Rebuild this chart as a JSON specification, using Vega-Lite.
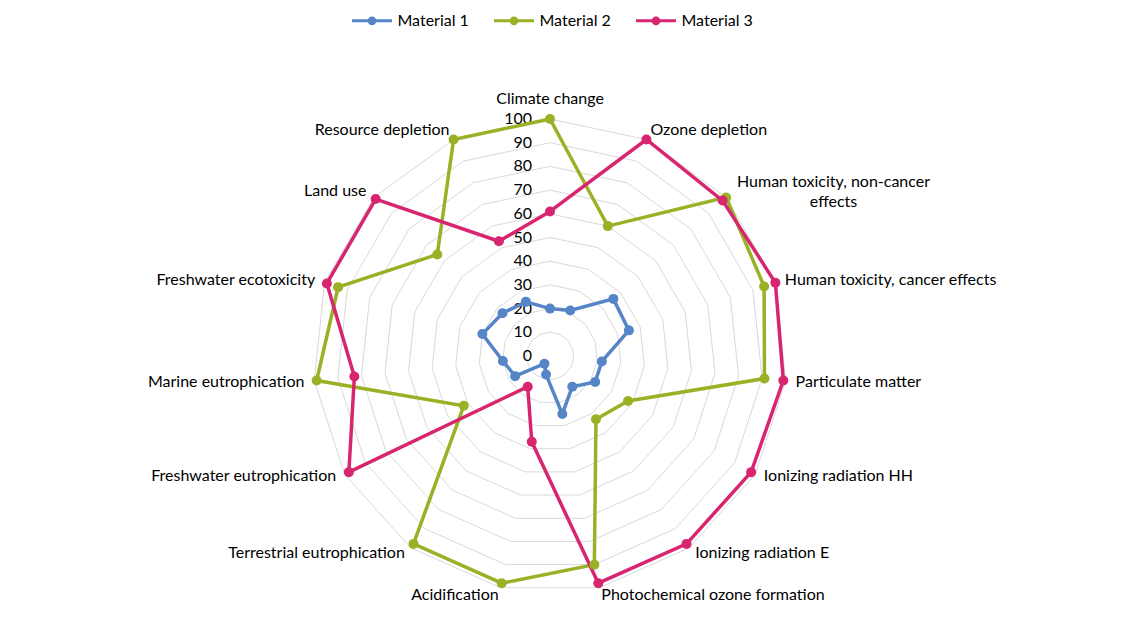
{
  "$schema": "https://vega.github.io/schema/vega-lite/v6.json",
  "width": 1128,
  "height": 623,
  "autosize": {"type": "none"},
  "padding": 0,
  "background": "white",
  "config": {"view": {"stroke": null}, "font": "Lato", "text": {"font": "Lato", "fontSize": 16, "color": "#000000"}},
  "datasets": {
    "impact": [
      {"category": "Climate change", "Material 1": 20, "Material 2": 100, "Material 3": 61},
      {"category": "Ozone depletion", "Material 1": 21, "Material 2": 60, "Material 3": 100},
      {"category": "Human toxicity, non-cancer effects", "Material 1": 36, "Material 2": 100, "Material 3": 98},
      {"category": "Human toxicity, cancer effects", "Material 1": 35, "Material 2": 95, "Material 3": 100},
      {"category": "Particulate matter", "Material 1": 22, "Material 2": 91, "Material 3": 99},
      {"category": "Ionizing radiation HH", "Material 1": 22, "Material 2": 38, "Material 3": 98},
      {"category": "Ionizing radiation E", "Material 1": 16, "Material 2": 33, "Material 3": 98},
      {"category": "Photochemical ozone formation", "Material 1": 25, "Material 2": 90, "Material 3": 98},
      {"category": "Acidification", "Material 1": 8, "Material 2": 98, "Material 3": 37},
      {"category": "Terrestrial eutrophication", "Material 1": 4, "Material 2": 98, "Material 3": 16},
      {"category": "Freshwater eutrophication", "Material 1": 17, "Material 2": 42, "Material 3": 98},
      {"category": "Marine eutrophication", "Material 1": 20, "Material 2": 99, "Material 3": 83},
      {"category": "Freshwater ecotoxicity", "Material 1": 30, "Material 2": 94, "Material 3": 99},
      {"category": "Land use", "Material 1": 27, "Material 2": 64, "Material 3": 99},
      {"category": "Resource depletion", "Material 1": 25, "Material 2": 100, "Material 3": 53}
    ],
    "rings": [
      {"level": 0}, {"level": 10}, {"level": 20}, {"level": 30}, {"level": 40}, {"level": 50},
      {"level": 60}, {"level": 70}, {"level": 80}, {"level": 90}, {"level": 100}
    ]
  },
  "layer": [
    {
      "data": {"name": "rings"},
      "mark": {
        "type": "point",
        "filled": false,
        "opacity": 1,
        "stroke": "#d9d9d9",
        "strokeWidth": 1,
        "shape": "M0,-1L0.4067,-0.9135L0.7431,-0.6691L0.9511,-0.309L0.9945,0.1045L0.866,0.5L0.5878,0.809L0.2079,0.9781L-0.2079,0.9781L-0.5878,0.809L-0.866,0.5L-0.9945,0.1045L-0.9511,-0.309L-0.7431,-0.6691L-0.4067,-0.9135Z"
      },
      "encoding": {
        "x": {"datum": 0, "type": "quantitative", "scale": {"domain": [-232.0675, 243.8819], "nice": false, "zero": false}, "axis": null},
        "y": {"datum": 0, "type": "quantitative", "scale": {"domain": [-112.6582, 150.211], "nice": false, "zero": false}, "axis": null},
        "size": {"field": "level", "type": "quantitative", "scale": {"type": "pow", "exponent": 2, "domain": [0, 100], "range": [0, 224676]}, "legend": null}
      }
    },
    {
      "data": {"name": "rings"},
      "mark": {"type": "text", "align": "right", "baseline": "middle", "dx": -18, "fontSize": 16},
      "encoding": {
        "x": {"datum": 0, "type": "quantitative", "scale": {"domain": [-232.0675, 243.8819], "nice": false, "zero": false}, "axis": null},
        "y": {"field": "level", "type": "quantitative", "scale": {"domain": [-112.6582, 150.211], "nice": false, "zero": false}, "axis": null},
        "text": {"field": "level", "type": "quantitative", "format": "d"}
      }
    },
    {
      "data": {"name": "impact"},
      "transform": [
        {"window": [{"op": "row_number", "as": "rn"}]},
        {"fold": ["Material 1", "Material 2", "Material 3"], "as": ["material", "value"]},
        {"calculate": "(datum.rn - 1) * 2 * PI / 15", "as": "ang"},
        {"calculate": "datum.value * sin(datum.ang)", "as": "x"},
        {"calculate": "datum.value * cos(datum.ang)", "as": "y"}
      ],
      "layer": [
        {
          "mark": {"type": "line", "interpolate": "linear-closed", "strokeWidth": 3.5},
          "encoding": {
            "x": {"field": "x", "type": "quantitative", "scale": {"domain": [-232.0675, 243.8819], "nice": false, "zero": false}, "axis": null},
            "y": {"field": "y", "type": "quantitative", "scale": {"domain": [-112.6582, 150.211], "nice": false, "zero": false}, "axis": null},
            "order": {"field": "rn", "type": "quantitative"},
            "color": {
              "field": "material", "type": "nominal",
              "scale": {"domain": ["Material 1", "Material 2", "Material 3"], "range": ["#5685C7", "#99B125", "#D8256F"]},
              "legend": {
                "title": null, "orient": "none", "direction": "horizontal", "legendX": 360.5, "legendY": 9,
                "padding": 0, "symbolSize": 400, "labelOffset": 14, "columnPadding": 18,
                "labelFont": "Lato", "labelFontSize": 16, "labelColor": "#000000",
                "symbolType": "M-2,0L2,0M0.28,0A0.28,0.28,0,1,1,-0.28,0A0.28,0.28,0,1,1,0.28,0Z",
                "symbolStrokeWidth": 3,
                "encode": {"symbols": {"update": {"fill": {"scale": "color", "field": "value"}, "stroke": {"scale": "color", "field": "value"}, "strokeWidth": {"value": 3}, "opacity": {"value": 1}}}}
              }
            }
          }
        },
        {
          "mark": {"type": "point", "filled": true, "opacity": 1, "size": 100},
          "encoding": {
            "x": {"field": "x", "type": "quantitative", "scale": {"domain": [-232.0675, 243.8819], "nice": false, "zero": false}, "axis": null},
            "y": {"field": "y", "type": "quantitative", "scale": {"domain": [-112.6582, 150.211], "nice": false, "zero": false}, "axis": null},
            "color": {
              "field": "material", "type": "nominal",
              "scale": {"domain": ["Material 1", "Material 2", "Material 3"], "range": ["#5685C7", "#99B125", "#D8256F"]},
              "legend": {
                "title": null, "orient": "none", "direction": "horizontal", "legendX": 360.5, "legendY": 9,
                "padding": 0, "symbolSize": 400, "labelOffset": 14, "columnPadding": 18,
                "labelFont": "Lato", "labelFontSize": 16, "labelColor": "#000000",
                "symbolType": "M-2,0L2,0M0.28,0A0.28,0.28,0,1,1,-0.28,0A0.28,0.28,0,1,1,0.28,0Z",
                "symbolStrokeWidth": 3,
                "encode": {"symbols": {"update": {"fill": {"scale": "color", "field": "value"}, "stroke": {"scale": "color", "field": "value"}, "strokeWidth": {"value": 3}, "opacity": {"value": 1}}}}
              }
            }
          }
        }
      ]
    },
    {
      "data": {"name": "impact"},
      "transform": [
        {"window": [{"op": "row_number", "as": "rn"}]},
        {"calculate": "(datum.rn - 1) * 2 * PI / 15", "as": "ang"},
        {"calculate": "104.2 * sin(datum.ang)", "as": "lx"},
        {"calculate": "104.2 * cos(datum.ang)", "as": "ly"},
        {"calculate": "replace(datum.category, 'non-cancer ', 'non-cancer\\n')", "as": "label"}
      ],
      "layer": [
        {
          "transform": [{"filter": "datum.rn == 1"}],
          "mark": {"type": "text", "align": "center", "baseline": "bottom", "fontSize": 16, "dy": -2},
          "encoding": {
            "x": {"field": "lx", "type": "quantitative", "scale": {"domain": [-232.0675, 243.8819], "nice": false, "zero": false}, "axis": null},
            "y": {"field": "ly", "type": "quantitative", "scale": {"domain": [-112.6582, 150.211], "nice": false, "zero": false}, "axis": null},
            "text": {"field": "label", "type": "nominal"}
          }
        },
        {
          "transform": [{"filter": "datum.rn >= 2 && datum.rn <= 5 && datum.rn != 3"}],
          "mark": {"type": "text", "align": "left", "baseline": "middle", "fontSize": 16},
          "encoding": {
            "x": {"field": "lx", "type": "quantitative", "scale": {"domain": [-232.0675, 243.8819], "nice": false, "zero": false}, "axis": null},
            "y": {"field": "ly", "type": "quantitative", "scale": {"domain": [-112.6582, 150.211], "nice": false, "zero": false}, "axis": null},
            "text": {"field": "label", "type": "nominal"}
          }
        },
        {
          "transform": [{"filter": "datum.rn >= 6 && datum.rn <= 8"}],
          "mark": {"type": "text", "align": "left", "baseline": "middle", "fontSize": 16, "dy": -3},
          "encoding": {
            "x": {"field": "lx", "type": "quantitative", "scale": {"domain": [-232.0675, 243.8819], "nice": false, "zero": false}, "axis": null},
            "y": {"field": "ly", "type": "quantitative", "scale": {"domain": [-112.6582, 150.211], "nice": false, "zero": false}, "axis": null},
            "text": {"field": "label", "type": "nominal"}
          }
        },
        {
          "transform": [{"filter": "datum.rn == 3"}],
          "mark": {"type": "text", "align": "center", "baseline": "middle", "fontSize": 16, "dx": 100, "dy": -9, "lineBreak": "\n", "lineHeight": 20},
          "encoding": {
            "x": {"field": "lx", "type": "quantitative", "scale": {"domain": [-232.0675, 243.8819], "nice": false, "zero": false}, "axis": null},
            "y": {"field": "ly", "type": "quantitative", "scale": {"domain": [-112.6582, 150.211], "nice": false, "zero": false}, "axis": null},
            "text": {"field": "label", "type": "nominal"}
          }
        },
        {
          "transform": [{"filter": "datum.rn >= 9 && datum.rn <= 11"}],
          "mark": {"type": "text", "align": "right", "baseline": "middle", "fontSize": 16, "dy": -3},
          "encoding": {
            "x": {"field": "lx", "type": "quantitative", "scale": {"domain": [-232.0675, 243.8819], "nice": false, "zero": false}, "axis": null},
            "y": {"field": "ly", "type": "quantitative", "scale": {"domain": [-112.6582, 150.211], "nice": false, "zero": false}, "axis": null},
            "text": {"field": "label", "type": "nominal"}
          }
        },
        {
          "transform": [{"filter": "datum.rn >= 12"}],
          "mark": {"type": "text", "align": "right", "baseline": "middle", "fontSize": 16},
          "encoding": {
            "x": {"field": "lx", "type": "quantitative", "scale": {"domain": [-232.0675, 243.8819], "nice": false, "zero": false}, "axis": null},
            "y": {"field": "ly", "type": "quantitative", "scale": {"domain": [-112.6582, 150.211], "nice": false, "zero": false}, "axis": null},
            "text": {"field": "label", "type": "nominal"}
          }
        }
      ]
    }
  ]
}
